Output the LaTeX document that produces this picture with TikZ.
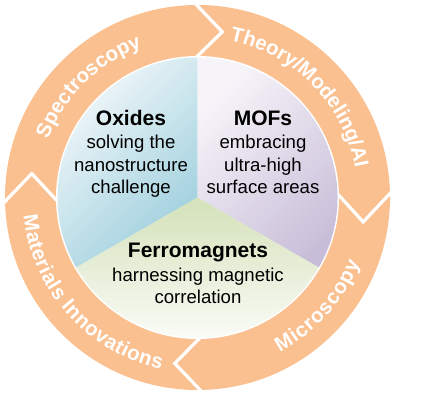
\documentclass[tikz,border=0pt]{standalone}
\usepackage{fontspec}
\setmainfont{Liberation Sans}
\usetikzlibrary{decorations.text}
\definecolor{ringc}{RGB}{250,192,144}
\definecolor{oxlight}{RGB}{242,248,250}
\definecolor{oxdark}{RGB}{158,207,221}
\definecolor{moflight}{RGB}{246,244,249}
\definecolor{mofdark}{RGB}{200,189,216}
\definecolor{fedark}{RGB}{212,225,185}
\newcommand\ringfont{\bfseries\fontsize{20.5}{20.5}\selectfont}
\begin{document}
\begin{tikzpicture}[x=1pt,y=1pt,
  chev/.style={white,line width=3.2pt,line join=miter},
  ringfit/.style={decorate,decoration={text along path,text align=fit to path,text color=white,text={#1}}},
  ringmid/.style={decorate,decoration={text along path,text align=center,text color=white,text={#1}}},
  title/.style={font=\bfseries\fontsize{21}{21}\selectfont,anchor=base,inner sep=0pt},
  body/.style={font=\fontsize{18.6}{18.6}\selectfont,anchor=base,inner sep=0pt}]
\useasboundingbox (0,0) rectangle (442,418);
\coordinate (C) at (197.5,220.5);
% ring
\fill[ringc] (C) circle[radius=192.5];
% chevron separators
\draw[chev] ([shift={(91.5:197)}]C) -- ([shift={(81.5:167.5)}]C) -- ([shift={(91.5:138)}]C);
\draw[chev] ([shift={(2.5:197)}]C) -- ([shift={(-8.4:167.5)}]C) -- ([shift={(2.5:138)}]C);
\draw[chev] ([shift={(272:197)}]C) -- ([shift={(262.2:167.5)}]C) -- ([shift={(272:138)}]C);
\draw[chev] ([shift={(182.5:197)}]C) -- ([shift={(171.8:167.5)}]C) -- ([shift={(182.5:138)}]C);
\fill[white] (C) circle[radius=141.5];
% ring labels
\path[ringmid={|\ringfont|Spectroscopy}] ([shift={(174.5:160.5)}]C) arc[start angle=174.5,end angle=94.5,radius=160.5];
\path[ringmid={|\ringfont|Theory/Modeling/AI}] ([shift={(84.5:160.5)}]C) arc[start angle=84.5,end angle=4.5,radius=160.5];
\path[ringfit={|\ringfont|Microscopy}] ([shift={(-62:175)}]C) arc[start angle=-62,end angle=-22,radius=175];
\path[ringfit={|\ringfont|Materials Innovations}] ([shift={(186:175)}]C) arc[start angle=186,end angle=258,radius=175];
% inner sectors
\shade[top color=oxlight,bottom color=oxdark,shading angle=45] (C) -- ([shift={(90:140)}]C) arc[start angle=90,end angle=210,radius=140] -- cycle;
\shade[top color=moflight,bottom color=mofdark,shading angle=45] (C) -- ([shift={(-30:140)}]C) arc[start angle=-30,end angle=90,radius=140] -- cycle;
\shade[top color=fedark,bottom color=white,shading angle=0] (C) -- ([shift={(210:140)}]C) arc[start angle=210,end angle=330,radius=140] -- cycle;
% texts
\node[title] (ox0) at (131,292) {Oxides};
\node[body] (ox1) at (131,269) {solving the};
\node[body] (ox2) at (131,246.5) {nanostructure};
\node[body] (ox3) at (131,224) {challenge};
\node[title] (mo0) at (263,292) {MOFs};
\node[body] (mo1) at (263,269) {embracing};
\node[body] (mo2) at (263,246.5) {ultra-high};
\node[body] (mo3) at (263,224) {surface areas};
\node[title] (fe0) at (198,160) {Ferromagnets};
\node[body] (fe1) at (198,136) {harnessing magnetic};
\node[body] (fe2) at (198,114) {correlation};
\end{tikzpicture}
\end{document}
